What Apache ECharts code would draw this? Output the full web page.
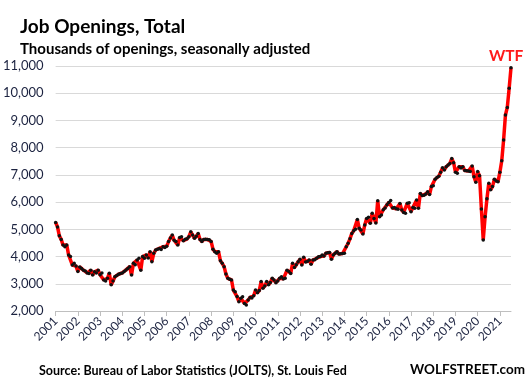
<!DOCTYPE html>
<html><head><meta charset="utf-8">
<script src="https://cdn.jsdelivr.net/npm/echarts/dist/echarts.min.js"></script>
<style>html,body{margin:0;padding:0;background:#fff}#c{width:525px;height:391px}</style>
</head><body><div id="c"></div><script>
// Job openings, thousands, seasonally adjusted (monthly, Jan 2001 - Jul 2021)
const y2001 = [5250,5090,4760,4630,4420,4360,4420,4060,4000,3690,3750,3650];
const y2002 = [3450,3620,3560,3500,3470,3400,3380,3500,3320,3440,3400,3500];
const y2003 = [3330,3400,3140,3100,3200,3390,2960,3100,3260,3300,3350,3380];
const y2004 = [3400,3450,3510,3560,3630,3320,3750,3700,3870,3940,3500,4000];
const y2005 = [3940,4060,3950,4180,3810,4120,4240,4270,4300,4260,4360,4330];
const y2006 = [4380,4550,4680,4790,4600,4550,4420,4700,4730,4580,4640,4650];
const y2007 = [4730,4910,4790,4670,4750,4850,4630,4550,4630,4640,4630,4620];
const y2008 = [4550,4270,4180,4120,4180,3850,3750,3630,3360,3200,3170,3140];
const y2009 = [2770,2710,2530,2340,2470,2520,2280,2220,2400,2500,2480,2560];
const y2010 = [2770,2670,2750,3080,2840,2920,3080,2960,3050,3200,3140,3040];
const y2011 = [3100,3200,3260,3180,3200,3500,3450,3380,3750,3600,3700,3810];
const y2012 = [3900,3690,3970,3800,3820,3870,3720,3870,3880,3940,3990,4000];
const y2013 = [4057,4020,4120,4140,4150,3900,4060,4120,4180,4094,4100,4110];
const y2014 = [4120,4360,4490,4650,4850,4950,5000,5360,5040,4980,4830,5160];
const y2015 = [5400,5440,5220,5590,5400,5230,6050,5460,5530,5720,5780,5900];
const y2016 = [5990,6060,5780,5800,5760,5740,5950,5710,5620,5590,5960,5980];
const y2017 = [5650,5800,5770,6080,5770,6320,6240,6250,6300,6380,6280,6570];
const y2018 = [6600,6840,6900,6950,7100,7260,7180,7300,7360,7420,7600,7450];
const y2019 = [7100,7060,7300,7250,7300,7160,7150,7140,7120,7330,6930,6730];
const y2020 = [7120,6970,5750,4610,5460,6120,6690,6450,6570,6840,6780,6750];
const y2021 = [7100,7520,8280,9200,9480,10180,10938];

const yearLabels = ['2001','2002','2003','2004','2005','2006','2007','2008','2009','2010','2011',
  '2012','2013','2014','2015','2016','2017','2018','2019','2020','2021'];
const yTicks = [2000,3000,4000,5000,6000,7000,8000,9000,10000,11000];

const yearly = [y2001,y2002,y2003,y2004,y2005,y2006,y2007,y2008,y2009,y2010,y2011,
  y2012,y2013,y2014,y2015,y2016,y2017,y2018,y2019,y2020,y2021];
const months = [];
const values = [];
yearly.forEach((arr, k) => {
  arr.forEach((v, m) => { months.push(yearLabels[k] + '-' + String(m + 1).padStart(2, '0')); values.push(v); });
});

const FONT = 'Lato, "Open Sans", sans-serif';
const chart = echarts.init(document.getElementById('c'), null, {renderer: 'canvas'});
chart.setOption({
  animation: false,
  backgroundColor: '#fff',
  title: [
    {text: 'Job Openings, Total', left: 15, top: 12, textStyle: {fontFamily: FONT, fontWeight: 'bold', fontSize: 19, color: '#000'}},
    {text: 'Thousands of openings, seasonally adjusted', left: 15, top: 37, textStyle: {fontFamily: FONT, fontWeight: 'bold', fontSize: 15, color: '#000'}},
    {text: 'WTF', left: 484, top: 43, textStyle: {fontFamily: FONT, fontWeight: 'bold', fontSize: 15.5, color: '#ff1a1a'}},
    {text: 'Source: Bureau of Labor Statistics (JOLTS), St. Louis Fed', left: 34, top: 359, textStyle: {fontFamily: FONT, fontWeight: 'bold', fontSize: 12.5, color: '#000'}},
    {text: 'WOLFSTREET.com', left: 405, top: 358, textStyle: {fontFamily: FONT, fontWeight: 'bold', fontSize: 13.5, color: '#000'}}
  ],
  grid: {left: 54.3, right: 14, top: 66, bottom: 80, containLabel: false},
  xAxis: {
    type: 'category', data: months, boundaryGap: false,
    axisLine: {lineStyle: {color: '#bfbfbf', width: 1}},
    axisTick: {interval: 11, length: 5, lineStyle: {color: '#bfbfbf'}},
    axisLabel: {interval: 11, rotate: 45, margin: 8, formatter: v => v.slice(0, 4),
      fontFamily: FONT, fontSize: 12, color: '#1c2340'},
    splitLine: {show: false}
  },
  yAxis: {
    type: 'value', min: yTicks[0], max: yTicks[yTicks.length - 1], interval: 1000,
    axisLine: {show: false}, axisTick: {show: false},
    splitLine: {lineStyle: {color: '#d9d9d9', width: 1}},
    axisLabel: {margin: 12, fontFamily: FONT, fontSize: 13, color: '#1c2340',
      formatter: v => v.toLocaleString('en-US')}
  },
  series: [{
    type: 'line', data: values, showAllSymbol: true,
    symbol: 'circle', symbolSize: 3.5,
    itemStyle: {color: '#111'},
    lineStyle: {color: '#ff0000', width: 3.5}
  }]
});
</script></body></html>
